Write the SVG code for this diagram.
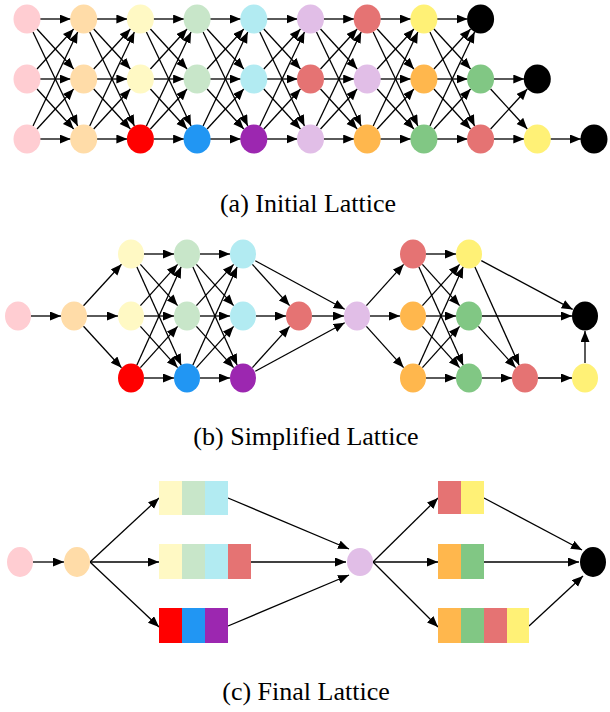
<svg xmlns="http://www.w3.org/2000/svg" xmlns:xlink="http://www.w3.org/1999/xlink" width="610" height="712" viewBox="0 0 610 712">
<defs>
<marker id="ar" markerUnits="userSpaceOnUse" markerWidth="12" markerHeight="10" refX="11" refY="4.5" orient="auto"><path d="M0,0 L11,4.5 L0,9 z" fill="#000"/></marker>
<g id="bipA">
<line x1="13" y1="19" x2="43.7" y2="19"/><line x1="13" y1="79" x2="43.7" y2="79"/><line x1="13" y1="139" x2="43.7" y2="139"/>
<line x1="10" y1="29" x2="46.7" y2="69"/><line x1="6" y1="32" x2="50.7" y2="126"/>
<line x1="10" y1="69" x2="46.7" y2="29"/><line x1="10" y1="89" x2="46.7" y2="129"/>
<line x1="6" y1="126" x2="50.7" y2="32"/><line x1="10" y1="129" x2="46.7" y2="89"/>
</g>
<g id="bipB">
<line x1="13" y1="254" x2="43" y2="254"/><line x1="13" y1="316" x2="43" y2="316"/><line x1="13" y1="378" x2="43" y2="378"/>
<line x1="9.4" y1="264.4" x2="46.6" y2="305.6"/><line x1="9.4" y1="305.6" x2="46.6" y2="264.4"/>
<line x1="9.4" y1="326.4" x2="46.6" y2="367.6"/><line x1="9.4" y1="367.6" x2="46.6" y2="326.4"/>
<line x1="5.8" y1="266.8" x2="50.2" y2="365.2"/><line x1="5.8" y1="365.2" x2="50.2" y2="266.8"/>
</g>
</defs>
<style>
line{stroke:#000;stroke-width:1.3;marker-end:url(#ar)}
.cap{font-family:"Liberation Serif",serif;font-size:26px;text-anchor:middle;fill:#000}
.pk{fill:#FFCDD2}.pe{fill:#FFDCA8}.ly{fill:#FFF9C4}.lg{fill:#C8E6C9}.lc{fill:#B2EBF2}.lv{fill:#E1BEE7}
.sa{fill:#E57373}.ye{fill:#FFF176}.or{fill:#FFB74D}.gr{fill:#81C784}.rd{fill:#FF0000}.bl{fill:#2196F3}.pu{fill:#9C27B0}.bk{fill:#000}
</style>
<rect width="610" height="712" fill="#fff"/>
<g id="connectors">
<use xlink:href="#bipA" x="27"/><use xlink:href="#bipA" x="83.7"/><use xlink:href="#bipA" x="140.4"/><use xlink:href="#bipA" x="197.1"/>
<use xlink:href="#bipA" x="253.8"/><use xlink:href="#bipA" x="310.5"/><use xlink:href="#bipA" x="367.2"/><use xlink:href="#bipA" x="423.9"/>
<line x1="493.6" y1="79" x2="524.3" y2="79"/><line x1="493.6" y1="139" x2="524.3" y2="139"/>
<line x1="490.6" y1="89" x2="527.3" y2="129"/><line x1="490.6" y1="129" x2="527.3" y2="89"/>
<line x1="550.3" y1="139" x2="581" y2="139"/>
<line x1="31" y1="316" x2="61" y2="316"/>
<line x1="87" y1="316" x2="118" y2="316"/><line x1="83.5" y1="305.7" x2="121.5" y2="264.3"/><line x1="83.5" y1="326.3" x2="121.5" y2="367.7"/>
<use xlink:href="#bipB" x="131"/><use xlink:href="#bipB" x="187"/>
<line x1="252.4" y1="264.4" x2="289.6" y2="305.6"/><line x1="256" y1="316" x2="286" y2="316"/><line x1="252.4" y1="367.6" x2="289.6" y2="326.4"/>
<line x1="255.3" y1="260.7" x2="344.7" y2="309.3"/><line x1="255.3" y1="371.3" x2="344.7" y2="322.7"/>
<line x1="312" y1="316" x2="344" y2="316"/>
<line x1="366.4" y1="305.6" x2="403.6" y2="264.4"/><line x1="370" y1="316" x2="400" y2="316"/><line x1="366.4" y1="326.4" x2="403.6" y2="367.6"/>
<use xlink:href="#bipB" x="413"/>
<line x1="481.3" y1="260.6" x2="572.7" y2="309.4"/><line x1="474.8" y1="266.8" x2="519.2" y2="365.2"/>
<line x1="482" y1="316" x2="572" y2="316"/><line x1="478.4" y1="326.4" x2="515.6" y2="367.6"/>
<line x1="482" y1="378" x2="512" y2="378"/><line x1="538" y1="378" x2="572" y2="378"/><line x1="585" y1="363" x2="585" y2="331"/>
<line x1="33" y1="562" x2="64" y2="562"/>
<line x1="90" y1="562" x2="159" y2="498"/><line x1="90" y1="562" x2="159" y2="562"/><line x1="90" y1="562" x2="159" y2="627"/>
<line x1="228" y1="498" x2="349" y2="549"/><line x1="251" y1="562" x2="346" y2="562"/><line x1="228" y1="626" x2="349" y2="575"/>
<line x1="373" y1="562" x2="438" y2="498"/><line x1="373" y1="562" x2="438" y2="562"/><line x1="373" y1="562" x2="438" y2="627"/>
<line x1="484" y1="498" x2="582" y2="550"/><line x1="484" y1="562" x2="579" y2="562"/><line x1="529" y1="626" x2="583" y2="576"/>
</g>
<g id="lattice-a">
<g id="a-c0"><ellipse class="pk" cx="27" cy="19" rx="13.5" ry="14.5"/><ellipse class="pk" cx="27" cy="79" rx="13.5" ry="14.5"/><ellipse class="pk" cx="27" cy="139" rx="13.5" ry="14.5"/></g>
<g id="a-c1"><ellipse class="pe" cx="83.7" cy="19" rx="13.5" ry="14.5"/><ellipse class="pe" cx="83.7" cy="79" rx="13.5" ry="14.5"/><ellipse class="pe" cx="83.7" cy="139" rx="13.5" ry="14.5"/></g>
<g id="a-c2"><ellipse class="ly" cx="140.4" cy="19" rx="13.5" ry="14.5"/><ellipse class="ly" cx="140.4" cy="79" rx="13.5" ry="14.5"/><ellipse class="rd" cx="140.4" cy="139" rx="13.5" ry="14.5"/></g>
<g id="a-c3"><ellipse class="lg" cx="197.1" cy="19" rx="13.5" ry="14.5"/><ellipse class="lg" cx="197.1" cy="79" rx="13.5" ry="14.5"/><ellipse class="bl" cx="197.1" cy="139" rx="13.5" ry="14.5"/></g>
<g id="a-c4"><ellipse class="lc" cx="253.8" cy="19" rx="13.5" ry="14.5"/><ellipse class="lc" cx="253.8" cy="79" rx="13.5" ry="14.5"/><ellipse class="pu" cx="253.8" cy="139" rx="13.5" ry="14.5"/></g>
<g id="a-c5"><ellipse class="lv" cx="310.5" cy="19" rx="13.5" ry="14.5"/><ellipse class="sa" cx="310.5" cy="79" rx="13.5" ry="14.5"/><ellipse class="lv" cx="310.5" cy="139" rx="13.5" ry="14.5"/></g>
<g id="a-c6"><ellipse class="sa" cx="367.2" cy="19" rx="13.5" ry="14.5"/><ellipse class="lv" cx="367.2" cy="79" rx="13.5" ry="14.5"/><ellipse class="or" cx="367.2" cy="139" rx="13.5" ry="14.5"/></g>
<g id="a-c7"><ellipse class="ye" cx="423.9" cy="19" rx="13.5" ry="14.5"/><ellipse class="or" cx="423.9" cy="79" rx="13.5" ry="14.5"/><ellipse class="gr" cx="423.9" cy="139" rx="13.5" ry="14.5"/></g>
<g id="a-c8"><ellipse class="bk" cx="480.6" cy="19" rx="13.5" ry="14.5"/><ellipse class="gr" cx="480.6" cy="79" rx="13.5" ry="14.5"/><ellipse class="sa" cx="480.6" cy="139" rx="13.5" ry="14.5"/></g>
<g id="a-c9"><ellipse class="bk" cx="537.3" cy="79" rx="13.5" ry="14.5"/><ellipse class="ye" cx="537.3" cy="139" rx="13.5" ry="14.5"/></g>
<g id="a-c10"><ellipse class="bk" cx="594" cy="139" rx="13.5" ry="14.5"/></g>
</g>
<g id="lattice-b">
<ellipse class="pk" cx="18" cy="316" rx="13" ry="14.5"/><ellipse class="pe" cx="74" cy="316" rx="13" ry="14.5"/>
<ellipse class="ly" cx="131" cy="254" rx="13" ry="14.5"/><ellipse class="ly" cx="131" cy="316" rx="13" ry="14.5"/><ellipse class="rd" cx="131" cy="378" rx="13" ry="14.5"/>
<ellipse class="lg" cx="187" cy="254" rx="13" ry="14.5"/><ellipse class="lg" cx="187" cy="316" rx="13" ry="14.5"/><ellipse class="bl" cx="187" cy="378" rx="13" ry="14.5"/>
<ellipse class="lc" cx="243" cy="254" rx="13" ry="14.5"/><ellipse class="lc" cx="243" cy="316" rx="13" ry="14.5"/><ellipse class="pu" cx="243" cy="378" rx="13" ry="14.5"/>
<ellipse class="sa" cx="299" cy="316" rx="13" ry="14.5"/><ellipse class="lv" cx="357" cy="316" rx="13" ry="14.5"/>
<ellipse class="sa" cx="413" cy="254" rx="13" ry="14.5"/><ellipse class="or" cx="413" cy="316" rx="13" ry="14.5"/><ellipse class="or" cx="413" cy="378" rx="13" ry="14.5"/>
<ellipse class="ye" cx="469" cy="254" rx="13" ry="14.5"/><ellipse class="gr" cx="469" cy="316" rx="13" ry="14.5"/><ellipse class="gr" cx="469" cy="378" rx="13" ry="14.5"/>
<ellipse class="sa" cx="525" cy="378" rx="13" ry="14.5"/><ellipse class="ye" cx="585" cy="378" rx="13" ry="14.5"/><ellipse class="bk" cx="585" cy="316" rx="13" ry="14.5"/>
</g>
<g id="lattice-c">
<ellipse class="pk" cx="20" cy="562" rx="13" ry="15"/><ellipse class="pe" cx="77" cy="562" rx="13" ry="15"/>
<g id="c-top"><rect class="ly" x="159" y="481" width="23" height="34"/><rect class="lg" x="182" y="481" width="23" height="34"/><rect class="lc" x="205" y="481" width="23" height="34"/></g>
<g id="c-mid"><rect class="ly" x="159" y="544" width="23" height="35"/><rect class="lg" x="182" y="544" width="23" height="35"/><rect class="lc" x="205" y="544" width="23" height="35"/><rect class="sa" x="228" y="544" width="23" height="35"/></g>
<g id="c-bot"><rect class="rd" x="159" y="608" width="23" height="35"/><rect class="bl" x="182" y="608" width="23" height="35"/><rect class="pu" x="205" y="608" width="23" height="35"/></g>
<ellipse class="lv" cx="360" cy="562" rx="13" ry="14"/>
<g id="c-rtop"><rect class="sa" x="438" y="481" width="23" height="33"/><rect class="ye" x="461" y="481" width="23" height="33"/></g>
<g id="c-rmid"><rect class="or" x="438" y="544" width="23" height="35"/><rect class="gr" x="461" y="544" width="23" height="35"/></g>
<g id="c-rbot"><rect class="or" x="438" y="608" width="23" height="35"/><rect class="gr" x="461" y="608" width="23" height="35"/><rect class="sa" x="484" y="608" width="23" height="35"/><rect class="ye" x="507" y="608" width="22" height="35"/></g>
<ellipse class="bk" cx="593" cy="562" rx="13" ry="15"/>
</g>
<text class="cap" x="308" y="212">(a) Initial Lattice</text>
<text class="cap" x="306" y="445">(b) Simplified Lattice</text>
<text class="cap" x="306" y="700">(c) Final Lattice</text>
</svg>
